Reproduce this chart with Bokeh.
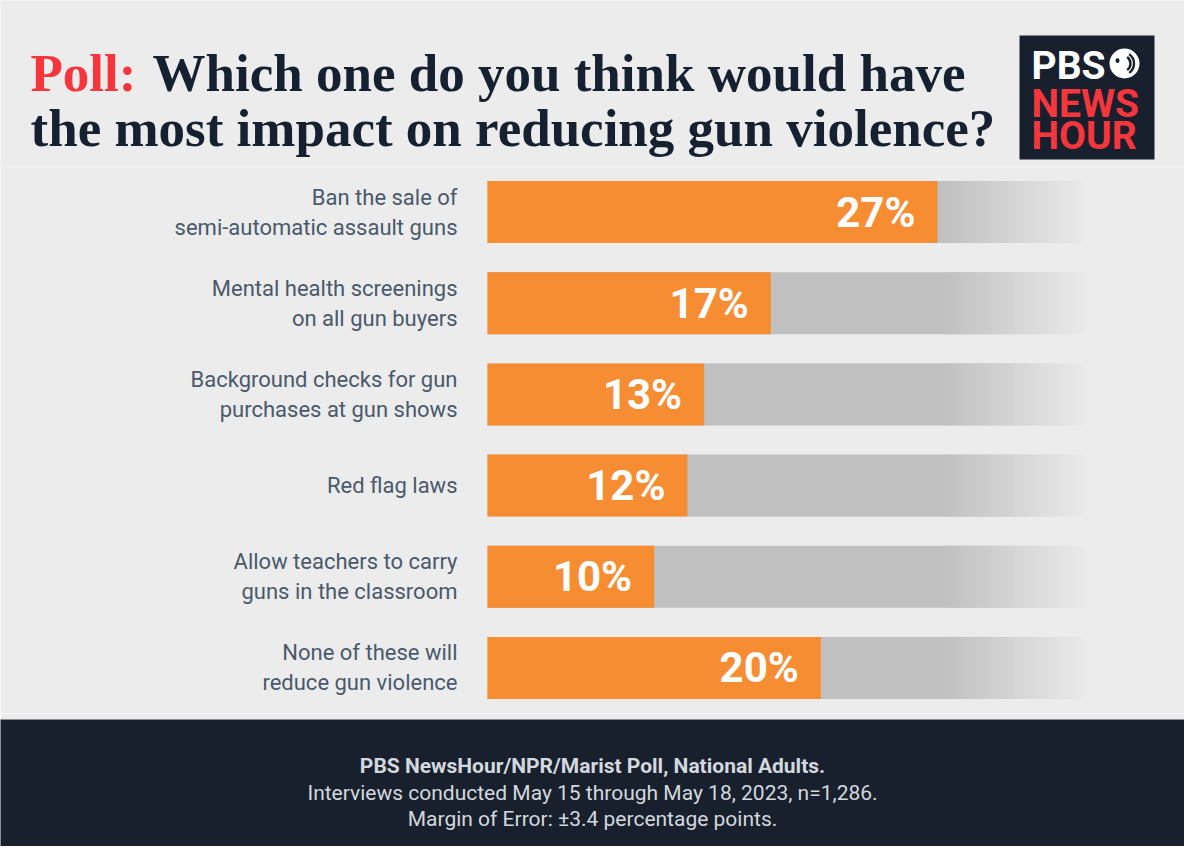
from bokeh.plotting import figure
from bokeh.models import Range1d, FactorRange
from bokeh.layouts import column
from bokeh.embed import file_html
from bokeh.resources import INLINE
from bokeh.core.properties import value

# ---------------- data ----------------
categories = [
    "Ban the sale of\nsemi-automatic assault guns",
    "Mental health screenings\non all gun buyers",
    "Background checks for gun\npurchases at gun shows",
    "Red flag laws",
    "Allow teachers to carry\nguns in the classroom",
    "None of these will\nreduce gun violence",
]
percents = [27, 17, 13, 12, 10, 20]
pct_labels = [f"{v}%" for v in percents]

title_lead = "Poll:"
title_line1 = "Which one do you think would have"
title_line2 = "the most impact on reducing gun violence?"
footer_bold = "PBS NewsHour/NPR/Marist Poll, National Adults."
footer_lines = [
    "Interviews conducted May 15 through May 18, 2023, n=1,286.",
    "Margin of Error: \u00b13.4 percentage points.",
]

# ---------------- style ----------------
BG = "#ececec"
ORANGE = "#f78d33"
GRAY = "#c0c0c0"
NAVY = "#18202e"
TITLE = "#152030"
RED = "#f5363c"
LABEL = "#4a596b"
FOOT = "#d3d8de"
SERIF = value("Liberation Serif")
SANS = value("Roboto")


def base_fig(w, h, xr, yr, bg):
    p = figure(width=w, height=h, x_range=xr, y_range=yr, output_backend="svg",
               toolbar_location=None, min_border=0, background_fill_color=bg,
               border_fill_color=bg, outline_line_color=None,
               x_axis_location=None, y_axis_location=None)
    p.grid.visible = False
    return p


# ---------------- header ----------------
hdr = base_fig(1184, 166, Range1d(8, 1192), Range1d(174, 8), BG)
T_SIZE = "53px"
hdr.text(x=[38], y=[80], text=[title_lead], text_font=SERIF, text_font_style="bold",
         text_font_size=T_SIZE, text_color=RED, text_baseline="alphabetic")
hdr.text(x=[160], y=[80], text=[title_line1], text_font=SERIF, text_font_style="bold",
         text_font_size=T_SIZE, text_color=TITLE, text_baseline="alphabetic")
hdr.text(x=[38], y=[135], text=[title_line2], text_font=SERIF, text_font_style="bold",
         text_font_size=T_SIZE, text_color=TITLE, text_baseline="alphabetic")

# logo
hdr.quad(left=[1027], right=[1162], top=[43], bottom=[167], fill_color=NAVY, line_color=None)
hdr.text(x=[1039], y=[73], text=["PBS"], text_font=SANS, text_font_style="bold",
         text_font_size="39px", text_color="white", text_baseline="alphabetic")
hdr.text(x=[1039], y=[111], text=["NEWS"], text_font=SANS, text_font_style="bold",
         text_font_size="39px", text_color=RED, text_baseline="alphabetic")
hdr.text(x=[1039], y=[143], text=["HOUR"], text_font=SANS, text_font_style="bold",
         text_font_size="39px", text_color=RED, text_baseline="alphabetic")
hdr.circle(x=[1132], y=[71], radius=15, fill_color="white", line_color=None)
hdr.arc(x=[1130, 1130], y=[71, 71], radius=[8, 11.5], start_angle=-0.95, end_angle=0.95,
        line_color=NAVY, line_width=2.4)
hdr.ellipse(x=[1125], y=[68], width=4, height=5, fill_color=NAVY, line_color=None)

# ---------------- bars ----------------
px_per_pct = (945 - 495) / 27.0
xr = Range1d((8 - 495) / px_per_pct, (1192 - 495) / px_per_pct)
yr = FactorRange(factors=list(reversed(categories)), range_padding=0)
p = base_fig(1184, 547, xr, yr, BG)

BAR_H = 0.68
SOLID_END = 27.4
TRACK_END = 35.8
p.hbar(y=categories, left=0, right=SOLID_END + 0.2, height=BAR_H, fill_color=GRAY, line_color=None)

# gradient fade of the grey track
N = 40
g0 = (0xc0, 0xc0, 0xc0)
g1 = (0xea, 0xea, 0xea)
ys, ls, rs, cs = [], [], [], []
step = (TRACK_END - SOLID_END) / N
for i in range(N):
    t = (i + 0.5) / N
    col = "#%02x%02x%02x" % tuple(int(round(a + (b - a) * t)) for a, b in zip(g0, g1))
    right = SOLID_END + (i + 2) * step if i < N - 1 else TRACK_END
    for c in categories:
        ys.append(c)
        ls.append(SOLID_END + i * step)
        rs.append(right)
        cs.append(col)
p.hbar(y=ys, left=ls, right=rs, height=BAR_H, fill_color=cs, line_color=None)

p.hbar(y=categories, left=0, right=percents, height=BAR_H, fill_color=ORANGE, line_color=None)

p.text(x=percents, y=categories, text=pct_labels, x_offset=-22, text_align="right",
       text_baseline="middle", text_font=SANS, text_font_style="bold",
       text_font_size="42px", text_color="white")

p.text(x=[-30 / px_per_pct] * len(categories), y=categories, text=categories,
       text_align="right", text_baseline="middle", text_font=SANS,
       text_font_size="22px", text_color=LABEL, text_line_height=1.2)

# ---------------- footer ----------------
ft = base_fig(1184, 133, Range1d(8, 1192), Range1d(854, 727), NAVY)
ft.border_fill_color = BG
ft.min_border_top = 6
ft.text(x=[600], y=[773], text=[footer_bold], text_align="center", text_baseline="middle",
        text_font=SANS, text_font_style="bold", text_font_size="21px", text_color=FOOT)
ft.text(x=[600, 600], y=[800, 826], text=footer_lines, text_align="center",
        text_baseline="middle", text_font=SANS, text_font_size="21px", text_color=FOOT)

layout = column(hdr, p, ft, spacing=0)
open("out.html", "w").write(file_html(layout, INLINE))
